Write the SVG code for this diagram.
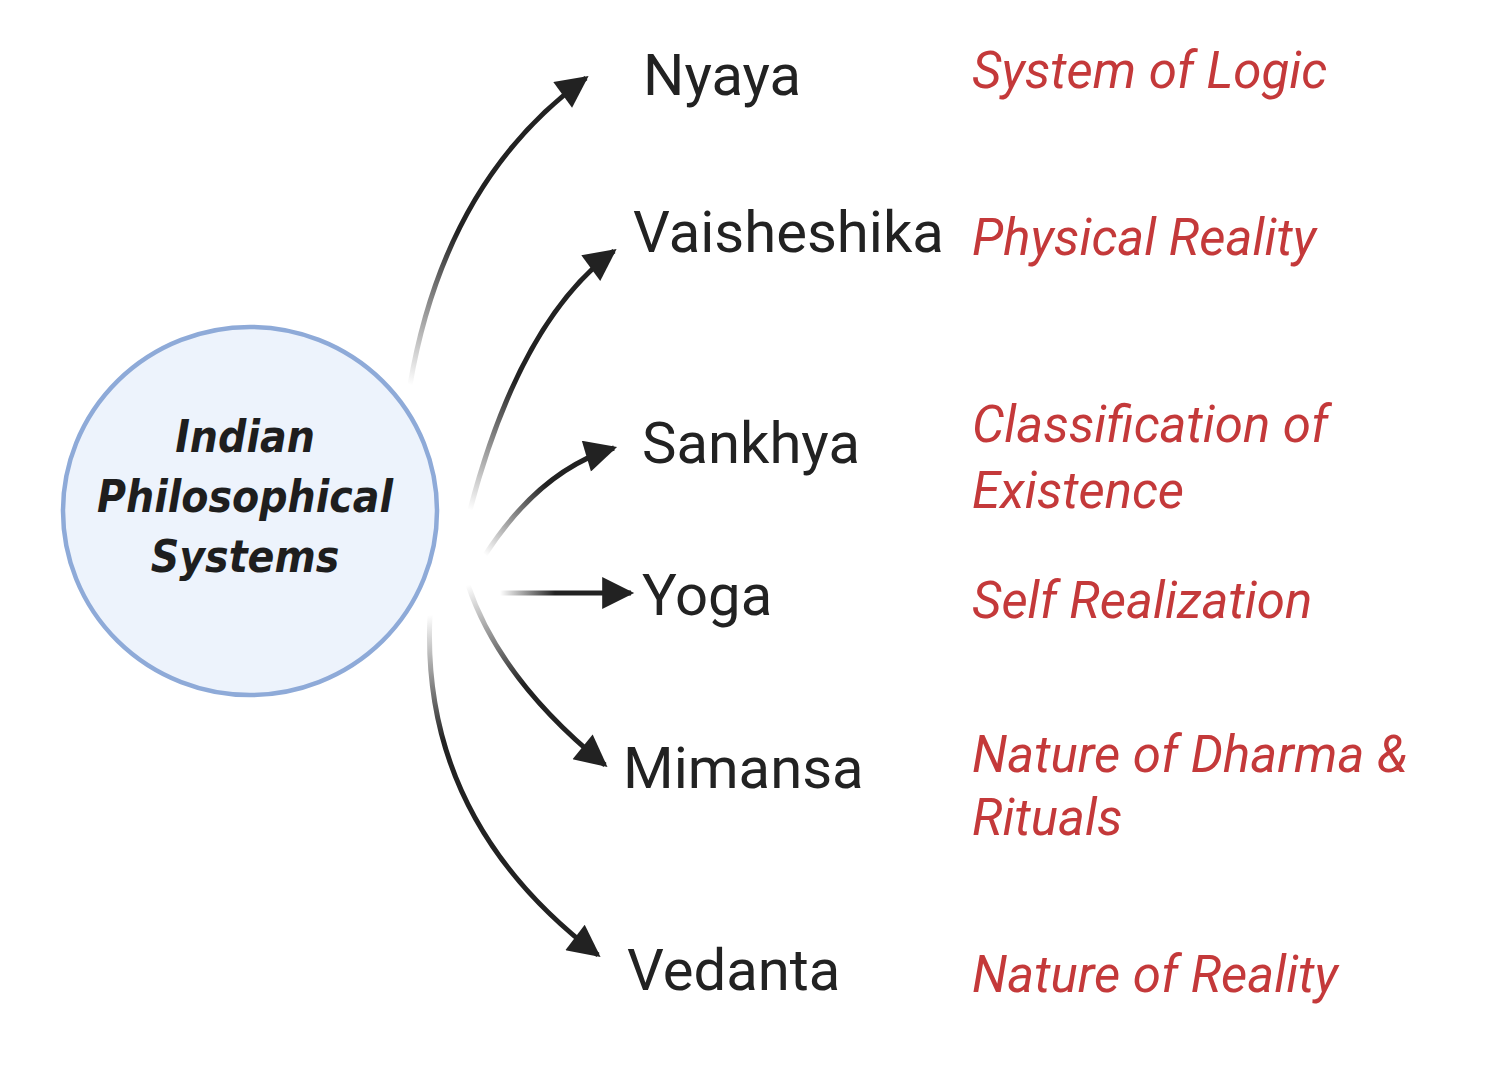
<svg xmlns="http://www.w3.org/2000/svg" width="1500" height="1065" viewBox="0 0 1500 1065">
<style>
.lbl{font-family:Roboto,"Liberation Sans",sans-serif;font-size:58px;fill:#222}
.desc{font-family:Roboto,"Liberation Sans",sans-serif;font-style:italic;font-size:51px;fill:#c4393a}
.ctr{font-family:"DejaVu Sans",sans-serif;font-style:oblique;font-weight:bold;font-stretch:condensed;font-size:44px;fill:#1e1e1e}
.con{fill:none;stroke-width:5}
</style>
<defs>
<marker id="ah" viewBox="0 0 10 10" refX="9" refY="5" markerWidth="36" markerHeight="32" markerUnits="userSpaceOnUse" orient="auto">
<path d="M0,0 L10,5 L0,10 Z" fill="#222"/>
</marker>
<linearGradient id="g1" gradientUnits="userSpaceOnUse" x1="410" y1="385" x2="450" y2="230"><stop offset="0" stop-color="#222" stop-opacity="0"/><stop offset="1" stop-color="#222"/></linearGradient>
<linearGradient id="g2" gradientUnits="userSpaceOnUse" x1="470" y1="510" x2="510" y2="380"><stop offset="0" stop-color="#222" stop-opacity="0"/><stop offset="1" stop-color="#222"/></linearGradient>
<linearGradient id="g3" gradientUnits="userSpaceOnUse" x1="485" y1="555" x2="545" y2="485"><stop offset="0" stop-color="#222" stop-opacity="0"/><stop offset="1" stop-color="#222"/></linearGradient>
<linearGradient id="g4" gradientUnits="userSpaceOnUse" x1="500" y1="593" x2="555" y2="593"><stop offset="0" stop-color="#222" stop-opacity="0"/><stop offset="1" stop-color="#222"/></linearGradient>
<linearGradient id="g5" gradientUnits="userSpaceOnUse" x1="468" y1="585" x2="510" y2="690"><stop offset="0" stop-color="#222" stop-opacity="0"/><stop offset="1" stop-color="#222"/></linearGradient>
<linearGradient id="g6" gradientUnits="userSpaceOnUse" x1="430" y1="615" x2="448" y2="740"><stop offset="0" stop-color="#222" stop-opacity="0"/><stop offset="1" stop-color="#222"/></linearGradient>
</defs>
<rect width="1500" height="1065" fill="#fff"/>
<g id="center">
<ellipse cx="250" cy="511" rx="187" ry="184" fill="#edf3fc" stroke="#8eaad8" stroke-width="4.5"/>
<text class="ctr" x="245" y="452" text-anchor="middle">Indian</text>
<text class="ctr" x="245" y="512" text-anchor="middle">Philosophical</text>
<text class="ctr" x="245" y="572" text-anchor="middle">Systems</text>
</g>
<g id="connectors">
<path class="con" stroke="url(#g1)" d="M410,385 Q445,180 586,78" marker-end="url(#ah)"/>
<path class="con" stroke="url(#g2)" d="M470,510 Q520,320 614,251" marker-end="url(#ah)"/>
<path class="con" stroke="url(#g3)" d="M485,555 Q540,470 614,448" marker-end="url(#ah)"/>
<path class="con" stroke="url(#g4)" d="M500,593 L631,593" marker-end="url(#ah)"/>
<path class="con" stroke="url(#g5)" d="M468,585 Q500,680 605,765" marker-end="url(#ah)"/>
<path class="con" stroke="url(#g6)" d="M430,615 Q420,820 598,955" marker-end="url(#ah)"/>
</g>
<g id="nyaya"><text class="lbl" x="643" y="95">Nyaya</text><text class="desc" x="972" y="88">System of Logic</text></g>
<g id="vaisheshika"><text class="lbl" x="633" y="252">Vaisheshika</text><text class="desc" x="972" y="255">Physical Reality</text></g>
<g id="sankhya"><text class="lbl" x="642" y="463">Sankhya</text><text class="desc" x="972" y="442">Classification of</text><text class="desc" x="972" y="508">Existence</text></g>
<g id="yoga"><text class="lbl" x="642" y="615">Yoga</text><text class="desc" x="972" y="618">Self Realization</text></g>
<g id="mimansa"><text class="lbl" x="623" y="788">Mimansa</text><text class="desc" x="972" y="772">Nature of Dharma &amp;</text><text class="desc" x="972" y="835">Rituals</text></g>
<g id="vedanta"><text class="lbl" x="627" y="990">Vedanta</text><text class="desc" x="972" y="992">Nature of Reality</text></g>
</svg>
